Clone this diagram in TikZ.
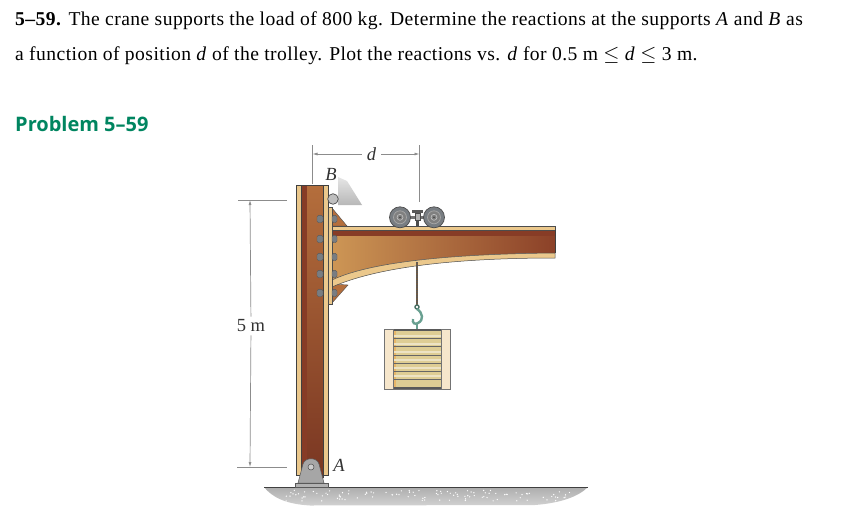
\documentclass[tikz,border=0pt]{standalone}
\usepackage{fontspec}
\usepackage{amsmath,amssymb}
\setmainfont{Liberation Serif}
\newfontfamily\headfont{Open Sans}
\usepackage{tikz}
\usetikzlibrary{arrows.meta}
\definecolor{probgreen}{RGB}{0,133,96}
\definecolor{flange}{RGB}{235,200,140}
\definecolor{rustdark}{RGB}{135,60,38}
\definecolor{rustmid}{RGB}{180,110,60}
\definecolor{rustlight}{RGB}{205,150,85}
\definecolor{steel}{RGB}{120,125,130}
\definecolor{slat}{RGB}{222,205,148}
\definecolor{hookgreen}{RGB}{105,160,145}
\definecolor{ropebrown}{RGB}{110,90,70}
\tikzset{
textline/.style={anchor=base west,inner sep=0pt,font=\fontsize{19.6}{20}\selectfont\addfontfeatures{LetterSpace=2.2}},
dimline/.style={draw=black!45,line width=0.7pt},
dimarrow/.style={dimline,-{Latex[length=5pt,width=3pt]}},
edgeline/.style={draw=black!75,line width=0.7pt},
steelbolt/.style={draw=black!65,fill=steel,line width=0.4pt,rounded corners=1.5pt},
wheel/.style={shape=circle,draw=black!70,fill=steel,minimum size=21pt,inner sep=0pt,line width=0.7pt},
lbl/.style={font=\fontsize{18.5}{20}\selectfont,inner sep=1pt,text=black!80}
}
\begin{document}
\begin{tikzpicture}[x=1pt,y=-1pt]
\useasboundingbox[fill=white] (0,0) rectangle (841,520);

\node[textline] (line1) at (15,25.7) {\textbf{5–59.} The crane supports the load of 800 kg. Determine the reactions at the supports \textit{A} and \textit{B} as};
\node[textline] (line2) at (15,60) {a function of position \textit{d} of the trolley. Plot the reactions vs. \textit{d} for 0.5 m $\leq$ \textit{d} $\leq$ 3 m.};
\node[anchor=base west,inner sep=0pt,text=probgreen,font=\headfont\bfseries\fontsize{20}{22}\selectfont] (prob) at (15,131) {Problem 5–59};

% ground
\shade[top color=black!32,bottom color=black!18] (264,487) -- (588,487) .. controls (578,497) and (560,503) .. (535,505) -- (310,505.5) .. controls (285,504) and (272,497) .. (264,487) -- cycle;
\pgfmathsetseed{59}
\foreach \i in {1,...,110}
\fill[white] ({285+rnd*285},{490+rnd*11}) circle (0.7);
\draw[edgeline] (264,487) -- (588,487);

% column
\fill[flange] (296,185) rectangle (328,475);
\shade[top color=rustmid,bottom color=rustdark!90!black] (301,185) rectangle (323,478);
\fill[rustdark] (301,185) rectangle (307,478);
\draw[edgeline] (296,475) -- (296,185) -- (328,185) -- (328,475) -- cycle;
\draw[edgeline] (301,185) -- (301,478) (323,185) -- (323,478);

% brackets
\fill[rustmid,draw=black!70,line width=0.4pt] (332,208) -- (347,226) -- (332,226) -- cycle;
\fill[rustmid,draw=black!70,line width=0.4pt] (332,303) -- (348,285) -- (332,284) -- cycle;

% beam
\shade[left color=rustlight,right color=rustdark!90!rustmid] (332,230) -- (555,230) -- (555,253) .. controls (450,254) and (370,262) .. (332,280) -- cycle;
\fill[rustdark] (332,230) rectangle (555,236);
\fill[flange,draw=black!70,line width=0.5pt] (332,226) rectangle (555,230);
\fill[flange,draw=black!70,line width=0.5pt] (332,280) .. controls (370,262) and (450,254) .. (555,253) -- (555,258) .. controls (450,258) and (375,268) .. (332,287) -- cycle;
\draw[edgeline] (555,230) -- (555,253);

% end plate and bolts
\fill[flange,draw=black!70,line width=0.5pt] (328,207) rectangle (332,304);
\foreach \y in {219,239,257,274,293}
{
\draw[steelbolt] (317,\y-3.7) rectangle (323,\y+3.7);
\draw[steelbolt] (332,\y-3.7) rectangle (337,\y+3.7);
}

% support B
\shade[top color=black!10,bottom color=black!28] (338,177) -- (347,181) -- (362,205) -- (338,205) -- cycle;
\draw[draw=black!70,fill=black!25,line width=0.7pt] (333,199) circle (5.3);

% trolley
\fill[black!70] (416,220) rectangle (418.5,226);
\fill[black!55] (405,215.5) rectangle (430,218.5);
\fill[black!65] (412,210) rectangle (423,213);
\fill[black!30,draw=black!70,line width=0.4pt] (415,213) rectangle (420,220);
\foreach \x/\name in {400/wheell,434/wheelr}
{
\node[wheel] (\name) at (\x,217.3) {};
\draw[black!35,fill=black!50,line width=0.7pt] (\name) circle (6.5);
\draw[white!80!black,line width=0.5pt] (\name) circle (3);
\fill[black!70] (\name) circle (1);
}

% cable and hook
\coordinate (cabletop) at (417,262);
\coordinate (cableend) at (417,305);
\draw[draw=ropebrown,line width=2.8pt] (cabletop) -- (cableend);
\draw[draw=black!65,dash pattern=on 1pt off 1.5pt,line width=2.8pt] (cabletop) -- (cableend);
\draw[draw=hookgreen!70!black,line width=1.4pt] (417,307) circle (2);
\draw[draw=hookgreen,line width=2.4pt] (417,309) .. controls (423,313) and (424,320) .. (418,323) .. controls (415,325) and (412,323) .. (413,319);
\draw[draw=hookgreen,line width=2.4pt] (417,323) -- (417,329);

% crate
\fill[slat,draw=black!55,line width=0.9pt] (384,329) rectangle (450,389);
\fill[black!65] (393,329) rectangle (441,331);
\fill[black!65] (393,387) rectangle (441,389);
\fill[slat!70!orange] (393,331) rectangle (396,387);
\foreach \y in {338.5,346.5,355,363,371,379}
{
\fill[slat!55!white] (393,\y-4) rectangle (441,\y-2);
\draw[black!60,line width=1pt] (393,\y) -- (441,\y);
}
\fill[flange!45!white,draw=black!55,line width=0.9pt] (384,329) rectangle (393,389);
\fill[flange!45!white,draw=black!55,line width=0.9pt] (441,329) rectangle (450,389);

% support A
\fill[black!35,draw=black!65,line width=0.5pt] (298,483) -- (303,464) .. controls (305,457) and (317,457) .. (319,464) -- (324,483) -- cycle;
\fill[black!30,draw=black!65,line width=0.5pt] (295,483) rectangle (328,487);
\draw[draw=black!70,fill=black!20,line width=0.5pt] (311,467) circle (3);

% dimensions
\coordinate (dleft) at (312.5,154);
\coordinate (dright) at (419.5,154);
\coordinate (dlefttop) at (312.5,145);
\coordinate (dleftend) at (312.5,184);
\coordinate (drighttop) at (419.5,145);
\coordinate (drightend) at (419.5,202);
\coordinate (htop) at (250,200);
\coordinate (hbot) at (250,467);
\coordinate (htopl) at (238,200);
\coordinate (htopr) at (287,200);
\coordinate (hbotl) at (237,467);
\coordinate (hbotr) at (287,467);

\node[lbl,inner sep=5pt] (dlabel) at (371.5,154) {\textit{d}};
\node[lbl,inner sep=3pt] (hlabel) at (251,326) {5 m};
\node[lbl] (Alabel) at (339,465) {\textit{A}};
\node[lbl] (Blabel) at (331,174) {\textit{B}};

\draw[dimline] (dlefttop) -- (dleftend);
\draw[dimline] (drighttop) -- (drightend);
\draw[dimline] (htopl) -- (htopr);
\draw[dimline] (hbotl) -- (hbotr);
\draw[dimarrow] (dlabel) -- (dleft);
\draw[dimarrow] (dlabel) -- (dright);
\draw[dimarrow] (hlabel) -- (htop);
\draw[dimarrow] (hlabel) -- (hbot);
\end{tikzpicture}
\end{document}
